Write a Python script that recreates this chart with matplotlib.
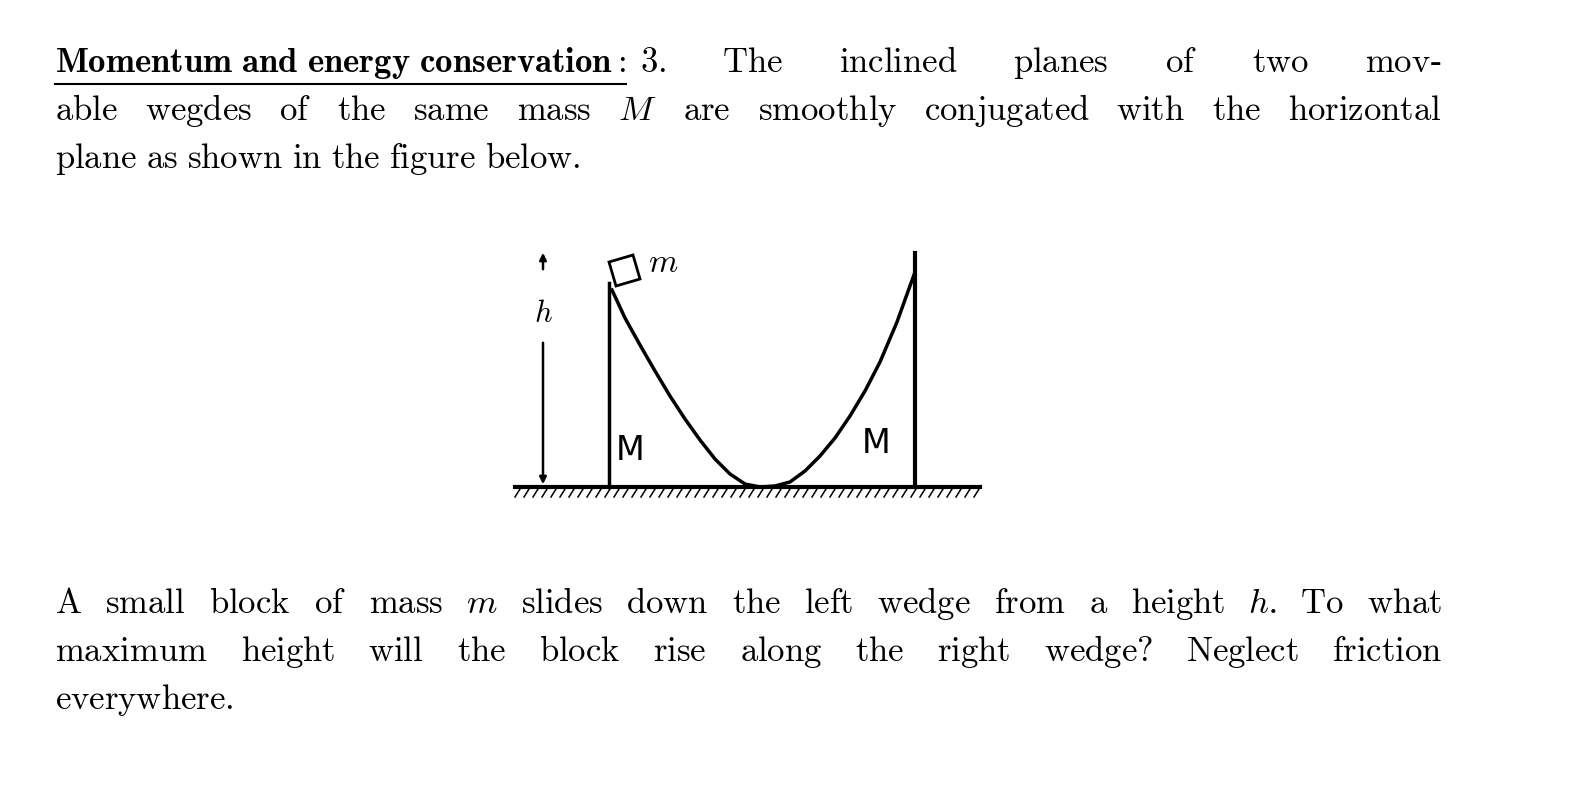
import matplotlib.pyplot as plt
import numpy as np
from matplotlib.patches import Polygon

plt.rcParams['font.family'] = ['Liberation Serif', 'DejaVu Serif']
plt.rcParams['mathtext.fontset'] = 'cm'

# text lines (justified ones first)
head = "Momentum and energy conservation:"
para1 = [("3.  The inclined planes of two mov-", True),
         ("able wegdes of the same mass $M$ are smoothly conjugated with the horizontal", True),
         ("plane as shown in the figure below.", False)]
para2 = [("A small block of mass $m$ slides down the left wedge from a height $h$.  To what", True),
         ("maximum height will the block rise along the right wedge?  Neglect friction", True),
         ("everywhere.", False)]

# diagram geometry (pixels)
ground_x = [515, 980]
ground_y = 487
left_wall = [609, 283]
right_wall = [915, 253]
curve_x = [612, 625, 640, 655, 670, 685, 700, 715, 730, 745, 760, 775, 790, 805, 820, 835, 850, 865, 880, 897, 915]
curve_y = [290, 318, 345, 371, 396, 419, 440, 459, 474, 484, 487, 486, 482, 471, 456, 438, 416, 391, 362, 322, 272]
block = [(609, 262), (633, 255), (640, 279), (616, 286)]

fig = plt.figure(figsize=(15.94, 7.92), dpi=100)
ax = fig.add_axes([0, 0, 1, 1])
ax.set_xlim(0, 1594)
ax.set_ylim(792, 0)
ax.axis('off')
fig.canvas.draw()
r = fig.canvas.get_renderer()
fs = 25

def cm(w):
    # set a word in Computer Modern through mathtext
    if '$' in w:
        return w
    if w.endswith('-'):
        return r'$\mathrm{' + w[:-1] + r'}$-'
    return r'$\mathrm{' + w + '}$'

def width(s):
    t = ax.text(0, 0, s, fontsize=fs)
    w = t.get_window_extent(r).width
    t.remove()
    return w

def put_line(x0, x1, y, s, justify):
    words = [cm(w) for w in s.split()]
    ws = [width(w) for w in words]
    if justify:
        gap = (x1 - x0 - sum(ws)) / (len(words) - 1)
    else:
        gap = 9
    x = x0
    for w, wd in zip(words, ws):
        ax.text(x, y, w, fontsize=fs, va='baseline')
        x += wd + gap

L, R = 55, 1442
head_s = r'$\mathbf{' + head.replace(' ', r'\ ') + '}$'
hw = width(head_s)
ax.text(L, 72, head_s, fontsize=fs, va='baseline')
ax.plot([L, L + hw], [84, 84], color='black', lw=1.5)
put_line(L + hw + 14, R, 72, para1[0][0], True)
for i, (s, j) in enumerate(para1[1:]):
    put_line(L, R, 120 + 48 * i, s, j)
for i, (s, j) in enumerate(para2):
    put_line(L, R, 613 + 48 * i, s, j)

# diagram
ax.plot(ground_x, [ground_y, ground_y], color='black', lw=3)
for hx in np.arange(ground_x[0] + 5, ground_x[1], 9):
    ax.plot([hx, hx - 5], [ground_y + 2, ground_y + 10], color='black', lw=1.1)
ax.plot([left_wall[0]] * 2, [left_wall[1], ground_y], color='black', lw=2.5)
ax.plot([right_wall[0]] * 2, [right_wall[1], ground_y], color='black', lw=3)
ax.plot(curve_x, curve_y, color='black', lw=2.5)
ax.add_patch(Polygon(block, closed=True, fill=False, ec='black', lw=2))
ax.text(648, 272, '$m$', fontsize=24, va='baseline')
ax.text(616, 460, 'M', fontsize=24, family='DejaVu Sans', va='baseline')
ax.text(862, 453, 'M', fontsize=24, family='DejaVu Sans', va='baseline')
ax.annotate('', xy=(543, 250), xytext=(543, 272),
            arrowprops=dict(arrowstyle='-|>', color='black', lw=1.8))
ax.text(543, 322, '$h$', fontsize=22, ha='center', va='baseline')
ax.annotate('', xy=(543, 487), xytext=(543, 340),
            arrowprops=dict(arrowstyle='-|>', color='black', lw=1.8))

fig.savefig('out.png', dpi=100)
